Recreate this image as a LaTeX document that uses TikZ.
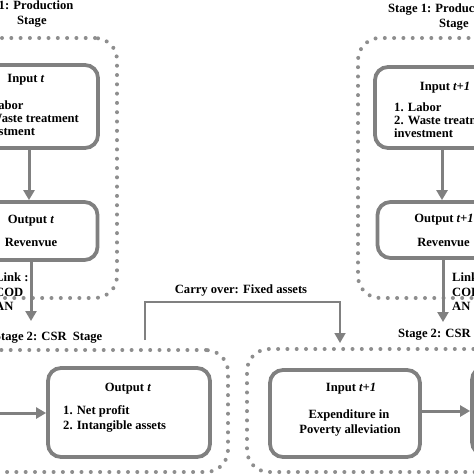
\documentclass[tikz,border=0pt]{standalone}
\usepackage{fontspec}
\setmainfont{Liberation Serif}
\usetikzlibrary{arrows.meta,calc}
\definecolor{boxgray}{HTML}{808080}
\definecolor{dotgray}{HTML}{8E8E8E}
\begin{document}
\begin{tikzpicture}[x=1pt,y=-1pt,
  font=\bfseries\fontsize{12.6}{14}\selectfont,
  box/.style={draw=boxgray, line width=3.8pt, rounded corners=13pt, inner sep=0pt},
  stagebox/.style={draw=dotgray, line width=4pt, line cap=round, dash pattern=on 0pt off 9.3pt, rounded corners=22pt, inner sep=0pt},
  arr/.style={draw=boxgray, line width=3pt, -{Triangle[length=10pt,width=11pt]}},
  thinarr/.style={draw=boxgray, line width=1.8pt, -{Triangle[length=10pt,width=11pt]}},
  txt/.style={inner sep=0pt, anchor=west},
  ctxt/.style={inner sep=0pt, anchor=center}]
\useasboundingbox (0,0) rectangle (474,474);
\clip (0,0) rectangle (474,474);

% stage frames
\node[stagebox, minimum width=179pt, minimum height=260pt] (s1L) at (27.5,168) {};
\node[stagebox, minimum width=179pt, minimum height=260pt] (s1R) at (447.5,168) {};
\node[stagebox, minimum width=428pt, minimum height=122pt] (s2L) at (14,411) {};
\node[stagebox, minimum width=453pt, minimum height=123pt] (s2R) at (473.5,410.5) {};

% boxes
\node[box, minimum width=140pt, minimum height=83pt] (inL) at (28,106.5) {};
\node[box, minimum width=142pt, minimum height=81pt] (inR) at (446,107.5) {};
\node[box, minimum width=137pt, minimum height=58pt] (outL) at (29,231) {};
\node[box, minimum width=137pt, minimum height=56pt] (outR) at (446,230) {};
\node[box, minimum width=162pt, minimum height=89pt] (outB) at (129,412.5) {};
\node[box, minimum width=150pt, minimum height=87pt] (inB) at (345,413.5) {};
\node[box, minimum width=148pt, minimum height=88pt] (nextB) at (546,411) {};

% stage labels
\node[txt] (st1La) at (-34,7) {Stage 1: Production};
\node[txt] (st1Lb) at (17,22) {Stage};
\node[txt] (st1Ra) at (388,10) {Stage 1: Production};
\node[txt] (st1Rb) at (439,25) {Stage};
\node[txt] (st2L) at (-6,338) {Stage 2: CSR\ \ Stage};
\node[txt] (st2R) at (398,335) {Stage 2: CSR\ \ Stage};

% input t
\node[ctxt] (inLt) at (26,80) {Input \textit{t}};
\node[txt] (inL1) at (-24,105) {1. Labor};
\node[txt] (inL2) at (-24,118) {2. Waste treatment};
\node[txt] (inL3) at (-24,131) {investment};
% input t+1 (top right)
\node[ctxt] (inRt) at (445,88) {Input \textit{t+1}};
\node[txt] (inR1) at (394,107) {1. Labor};
\node[txt] (inR2) at (394,120) {2. Waste treatment};
\node[txt] (inR3) at (394,133) {investment};

% outputs top
\node[ctxt] (outLt) at (31,221) {Output \textit{t}};
\node[ctxt] (outLr) at (31,242) {Revenvue};
\node[ctxt] (outRt) at (444,220) {Output \textit{t+1}};
\node[ctxt] (outRr) at (443.5,242) {Revenvue};

% link labels
\node[txt] (lkL1) at (-5,277) {Link :};
\node[txt] (lkL2) at (-5,292) {COD};
\node[txt] (lkL3) at (-5,306) {AN};
\node[txt] (lkR1) at (452,277) {Link :};
\node[txt] (lkR2) at (452,292) {COD};
\node[txt] (lkR3) at (452,306) {AN};

% bottom boxes text
\node[ctxt] (outBt) at (128,389) {Output \textit{t}};
\node[txt] (outB1) at (63,411) {1. Net profit};
\node[txt] (outB2) at (63,427) {2. Intangible assets};
\node[ctxt] (inBt) at (351,389) {Input \textit{t+1}};
\node[ctxt] (inB1) at (349,415) {Expenditure in};
\node[ctxt] (inB2) at (350,430) {Poverty alleviation};

% carry over
\node[ctxt] (carry) at (241,290) {Carry over: Fixed assets};
\coordinate (cS) at (145,340);
\coordinate (cE) at (340,343);
\draw[thinarr] (cS) |- (340,302) -- (cE);

% arrows
\draw[arr] (inL.south -| 29,0) -- (outL.north -| 29,0);
\draw[arr] (inR.south -| 442,0) -- (outR.north -| 442,0);
\coordinate (dL) at (31,321);
\coordinate (dR) at (443,322);
\draw[arr] (outL.south -| dL) -- (dL);
\draw[arr] (outR.south -| dR) -- (dR);
\coordinate (lin) at (-10,413);
\draw[arr] (lin) -- (outB.west |- lin);
\draw[arr] (inB.east |- 0,411) -- (nextB.west |- 0,411);
\end{tikzpicture}
\end{document}
